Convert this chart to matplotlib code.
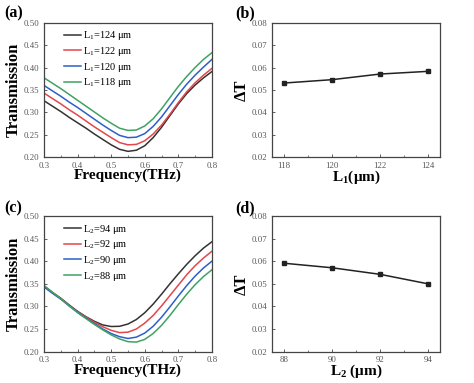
import numpy as np
import matplotlib
matplotlib.use('Agg')
import matplotlib.pyplot as plt
from matplotlib.ticker import MultipleLocator, FormatStrFormatter

plt.rcParams['font.family'] = ['Liberation Serif', 'DejaVu Serif']
plt.rcParams['mathtext.default'] = 'regular'

# 周波数軸 (THz)
freq = [0.300, 0.325, 0.350, 0.375, 0.400, 0.425, 0.450, 0.475, 0.500, 0.525, 0.550,
        0.575, 0.600, 0.625, 0.650, 0.675, 0.700, 0.725, 0.750, 0.775, 0.800]

# (a) L1 を変えた透過スペクトル
L1_labels = ['124', '122', '120', '118']
T_L1_124 = [0.326, 0.314, 0.302, 0.289, 0.277, 0.265, 0.252, 0.240, 0.228, 0.218, 0.2135,
            0.216, 0.226, 0.244, 0.267, 0.293, 0.319, 0.342, 0.361, 0.377, 0.391]
T_L1_122 = [0.343, 0.331, 0.319, 0.306, 0.294, 0.281, 0.268, 0.256, 0.244, 0.233, 0.228,
            0.229, 0.237, 0.252, 0.272, 0.296, 0.322, 0.346, 0.366, 0.383, 0.398]
T_L1_120 = [0.360, 0.348, 0.336, 0.323, 0.311, 0.298, 0.285, 0.272, 0.260, 0.249, 0.244,
            0.245, 0.253, 0.269, 0.290, 0.315, 0.340, 0.363, 0.383, 0.401, 0.418]
T_L1_118 = [0.377, 0.365, 0.353, 0.340, 0.327, 0.314, 0.301, 0.288, 0.276, 0.265, 0.260,
            0.261, 0.270, 0.286, 0.308, 0.333, 0.358, 0.380, 0.400, 0.418, 0.433]

# (c) L2 を変えた透過スペクトル
L2_labels = ['94', '92', '90', '88']
T_L2_94 = [0.345, 0.331, 0.318, 0.303, 0.289, 0.277, 0.267, 0.259, 0.2555, 0.256, 0.261,
           0.271, 0.286, 0.305, 0.327, 0.350, 0.372, 0.393, 0.412, 0.429, 0.443]
T_L2_92 = [0.344, 0.330, 0.317, 0.302, 0.288, 0.276, 0.265, 0.255, 0.247, 0.242, 0.243,
           0.250, 0.263, 0.280, 0.301, 0.324, 0.347, 0.370, 0.390, 0.407, 0.422]
T_L2_90 = [0.343, 0.329, 0.316, 0.301, 0.287, 0.274, 0.262, 0.250, 0.240, 0.233, 0.229,
           0.232, 0.241, 0.256, 0.276, 0.299, 0.323, 0.346, 0.367, 0.385, 0.400]
T_L2_88 = [0.346, 0.331, 0.317, 0.301, 0.286, 0.273, 0.260, 0.248, 0.237, 0.228, 0.222,
           0.221, 0.227, 0.240, 0.258, 0.280, 0.304, 0.327, 0.348, 0.366, 0.381]

# (b)(d) ΔT
L1_um = [118, 120, 122, 124]
dT_L1 = [0.0531, 0.0546, 0.0571, 0.0583]
L2_um = [88, 90, 92, 94]
dT_L2 = [0.0591, 0.0571, 0.0542, 0.0500]

colors = ['#333333', '#e2474b', '#2d5fca', '#3fa262']

fig = plt.figure(figsize=(4.74, 3.83), dpi=100)
ax_a = fig.add_axes([0.093, 0.589, 0.354, 0.352])
ax_b = fig.add_axes([0.574, 0.589, 0.354, 0.352])
ax_c = fig.add_axes([0.093, 0.082, 0.354, 0.354])
ax_d = fig.add_axes([0.574, 0.082, 0.354, 0.354])


def style(ax):
    for s in ax.spines.values():
        s.set_color('#444444')
        s.set_linewidth(0.9)
    ax.tick_params(which='both', direction='in', labelsize=6.3, colors='#444444',
                   labelcolor='#555555')
    ax.tick_params(which='major', length=2.5, width=0.6)
    ax.tick_params(which='minor', length=1.5, width=0.5)


def spectrum(ax, series, labels, sub):
    for y, lab, c in zip(series, labels, colors):
        ax.plot(freq, y, color=c, lw=1.1, label='L$_{%s}$=%s μm' % (sub, lab))
    ax.set_xlim(0.3, 0.8)
    ax.set_ylim(0.2, 0.5)
    ax.xaxis.set_major_locator(MultipleLocator(0.1))
    ax.xaxis.set_minor_locator(MultipleLocator(0.05))
    ax.yaxis.set_major_locator(MultipleLocator(0.05))
    ax.xaxis.set_major_formatter(FormatStrFormatter('%.1f'))
    ax.yaxis.set_major_formatter(FormatStrFormatter('%.2f'))
    ax.set_xlabel('Frequency(THz)', fontsize=11, fontweight='bold', labelpad=-1)
    ax.set_ylabel('Transmission', fontsize=12, fontweight='bold', labelpad=1)
    ax.legend(loc='upper left', bbox_to_anchor=(0.12, 0.95), frameon=False,
              fontsize=7.5, handlelength=1.6, handletextpad=0.2, labelspacing=0.25,
              borderaxespad=0, borderpad=0)
    style(ax)


def delta(ax, x, y, xlabel):
    ax.plot(x, y, color='#222222', lw=1.1, marker='s', ms=2.8)
    ax.set_xlim(x[0] - 0.5, x[-1] + 0.5)
    ax.set_ylim(0.02, 0.08)
    ax.xaxis.set_major_locator(MultipleLocator(2))
    ax.xaxis.set_minor_locator(MultipleLocator(1))
    ax.yaxis.set_major_locator(MultipleLocator(0.01))
    ax.yaxis.set_major_formatter(FormatStrFormatter('%.2f'))
    ax.set_xlabel(xlabel, fontsize=11, fontweight='bold', labelpad=-1)
    ax.set_ylabel('ΔT', fontsize=12, fontweight='bold', labelpad=1)
    style(ax)


spectrum(ax_a, [T_L1_124, T_L1_122, T_L1_120, T_L1_118], L1_labels, '1')
spectrum(ax_c, [T_L2_94, T_L2_92, T_L2_90, T_L2_88], L2_labels, '2')
delta(ax_b, L1_um, dT_L1, 'L$_1$(μm)')
delta(ax_d, L2_um, dT_L2, 'L$_2$ (μm)')

# パネル記号
for tx, ty, tag in [(0.008, 0.985, '(a)'), (0.497, 0.985, '(b)'),
                    (0.008, 0.478, '(c)'), (0.497, 0.478, '(d)')]:
    fig.text(tx, ty, tag, fontsize=11.5, fontweight='bold', va='top')

fig.savefig('out.png', dpi=100)
